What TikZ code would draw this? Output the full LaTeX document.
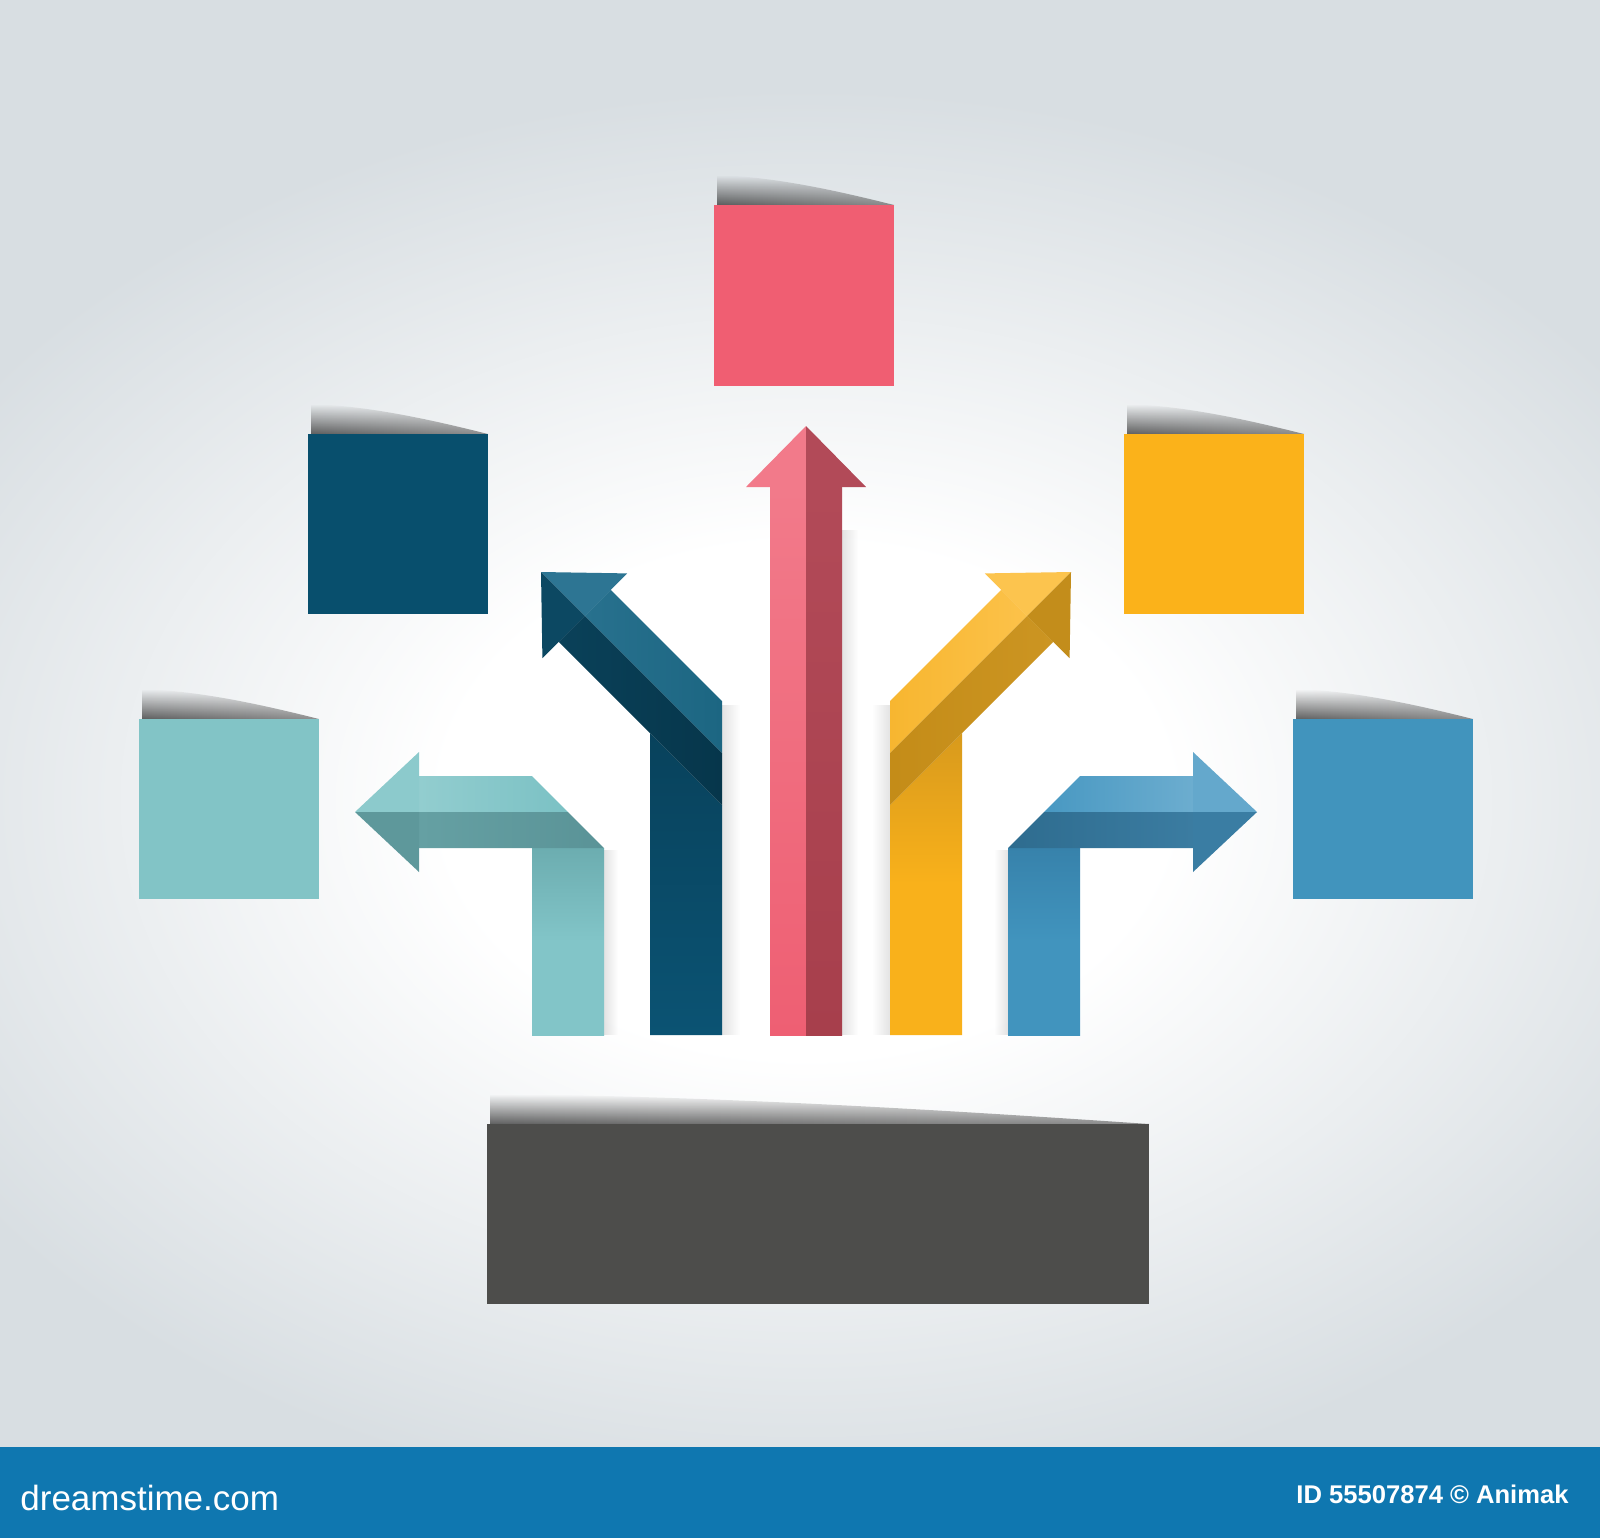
\documentclass[tikz,border=0pt]{standalone}
\usepackage{fontspec}
\setmainfont{Liberation Sans}
\usetikzlibrary{fadings}
\definecolor{bgc}{HTML}{D8DEE2}
\definecolor{redA}{HTML}{EE5F73}
\definecolor{redAl}{HTML}{F27A8A}
\definecolor{redB}{HTML}{A73F4C}
\definecolor{redBl}{HTML}{B24A58}
\definecolor{redbox}{HTML}{F05E72}
\definecolor{dbbox}{HTML}{084F6D}
\definecolor{dbstrip}{HTML}{0B5373}
\definecolor{dbstript}{HTML}{08425C}
\definecolor{dbup}{HTML}{1C6682}
\definecolor{dbupl}{HTML}{28718E}
\definecolor{dblo}{HTML}{0A4159}
\definecolor{dblod}{HTML}{06364B}
\definecolor{dbheadA}{HTML}{2D7593}
\definecolor{dbheadB}{HTML}{0C4862}
\definecolor{yebox}{HTML}{FBB21A}
\definecolor{yestrip}{HTML}{F9B11B}
\definecolor{yestript}{HTML}{D89A1C}
\definecolor{yeup}{HTML}{F7B630}
\definecolor{yeupl}{HTML}{FCC24A}
\definecolor{yelo}{HTML}{C48C18}
\definecolor{yelol}{HTML}{CC9522}
\definecolor{yeheadA}{HTML}{FCC44E}
\definecolor{yeheadB}{HTML}{C38D1B}
\definecolor{tebox}{HTML}{82C4C6}
\definecolor{testrip}{HTML}{82C5C8}
\definecolor{testript}{HTML}{6CADB0}
\definecolor{teup}{HTML}{7BC1C4}
\definecolor{teupl}{HTML}{92CDCF}
\definecolor{telo}{HTML}{5A9397}
\definecolor{telol}{HTML}{65A0A3}
\definecolor{teheadA}{HTML}{8CCACC}
\definecolor{teheadB}{HTML}{5E989B}
\definecolor{blbox}{HTML}{4194BD}
\definecolor{blstrip}{HTML}{4194BE}
\definecolor{blstript}{HTML}{3782AB}
\definecolor{blup}{HTML}{4898C2}
\definecolor{blupl}{HTML}{6CADCF}
\definecolor{bllo}{HTML}{2E6C8F}
\definecolor{bllol}{HTML}{3B7CA1}
\definecolor{blheadA}{HTML}{64A8CC}
\definecolor{blheadB}{HTML}{3A7DA3}
\definecolor{greybox}{HTML}{4D4D4B}
\definecolor{barblue}{HTML}{0F77B0}
\tikzfading[name=fadeup, top color=transparent!100, bottom color=transparent!0]
\tikzfading[name=faderight, left color=transparent!0, right color=transparent!100]
\tikzfading[name=fadeleft, left color=transparent!100, right color=transparent!0]
\pgfdeclareradialshading{bgglow}{\pgfpoint{0bp}{0bp}}{color(0bp)=(white); color(9bp)=(white); color(25bp)=(bgc); color(50bp)=(bgc)}
\newcommand\bxshadow[4]{%
  \shade[left color=black!85, right color=black!60, opacity=0.72, path fading=fadeup]
    ({#1+3},{#3}) -- ({#1+3},{#3-#4}) .. controls ({#1+0.35*(#2-#1)},{#3-#4+2}) and ({#1+0.7*(#2-#1)},{#3-0.45*#4}) .. (#2,#3) -- cycle;}
\tikzset{
  sidesh/.style={fill=black, fill opacity=0.11},
  txtlabel/.style={inner sep=0pt, text=white}
}
\begin{document}
\begin{tikzpicture}[x=0.5pt, y=-0.5pt]
\useasboundingbox (0,0) rectangle (1600,1538);
% background
\fill[bgc] (0,0) rectangle (1600,1538);
\begin{scope}
  \clip (0,0) rectangle (1600,1447);
  \begin{scope}[shift={(806,800)}]
    \pgftransformxscale{20.1}
    \pgftransformyscale{14.2}
    \pgflowlevelsynccm
    \pgfuseshading{bgglow}
  \end{scope}
\end{scope}

% box shadows
\bxshadow{714}{894}{205}{30}
\bxshadow{308}{488}{434}{30}
\bxshadow{1124}{1304}{434}{30}
\bxshadow{139}{319}{719}{30}
\bxshadow{1293}{1473}{719}{30}
\bxshadow{487}{1149}{1124}{30}

% boxes
\fill[redbox] (714,205) rectangle (894,386);
\fill[dbbox] (308,434) rectangle (488,614);
\fill[yebox] (1124,434) rectangle (1304,614);
\fill[tebox] (139,719) rectangle (319,899);
\fill[blbox] (1293,719) rectangle (1473,899);
\fill[greybox] (487,1124) rectangle (1149,1304);

% side shadows of the arrows
\fill[sidesh, path fading=faderight] (842,530) rectangle (858,1035);
\fill[sidesh, path fading=faderight] (722,705) rectangle (740,1035);
\fill[sidesh, path fading=fadeleft] (872,705) rectangle (890,1035);
\fill[sidesh, path fading=faderight] (604,850) rectangle (618,1035);
\fill[sidesh, path fading=fadeleft] (994,850) rectangle (1008,1035);

% red arrow
\shade[top color=redAl, bottom color=redA] (770,487) rectangle (806,1035);
\shade[top color=redBl, bottom color=redB] (806,487) rectangle (842,1035);
\fill[redAl] (806,426) -- (746,487) -- (806,487) -- cycle;
\fill[redBl] (806,426) -- (866,487) -- (806,487) -- cycle;

% dark blue arrow (up-left)
\shade[top color=dbstript, bottom color=dbstrip] (650,733) -- (722,805) -- (722,1035) -- (650,1035) -- cycle;
\shade[left color=dbupl, right color=dbup] (610.8,589.8) -- (722,701) -- (722,753) -- (584.8,615.8) -- cycle;
\shade[left color=dblo, right color=dblod] (558.8,641.8) -- (584.8,615.8) -- (722,753) -- (722,805) -- cycle;
\fill[dbheadA] (541,572) -- (627.2,573.4) -- (584.8,615.8) -- cycle;
\fill[dbheadB] (541,572) -- (584.8,615.8) -- (542.4,658.2) -- cycle;

% yellow arrow (up-right)
\shade[top color=yestript, bottom color=yestrip, middle color=yestrip] (962,733) -- (890,805) -- (890,1035) -- (962,1035) -- cycle;
\shade[left color=yeup, right color=yeupl] (1001.2,589.8) -- (890,701) -- (890,753) -- (1027.2,615.8) -- cycle;
\shade[left color=yelo, right color=yelol] (1053.2,641.8) -- (1027.2,615.8) -- (890,753) -- (890,805) -- cycle;
\fill[yeheadA] (1071,572) -- (984.8,573.4) -- (1027.2,615.8) -- cycle;
\fill[yeheadB] (1071,572) -- (1027.2,615.8) -- (1069.6,658.2) -- cycle;

% teal arrow (left)
\shade[top color=testript, bottom color=testrip, middle color=testrip] (532,848) rectangle (604,1035);
\shade[left color=teupl, right color=teup] (419,776) -- (532,776) -- (568,812) -- (419,812) -- cycle;
\shade[left color=telol, right color=telo] (419,812) -- (568,812) -- (604,848) -- (419,848) -- cycle;
\fill[teheadA] (355,812) -- (419,752) -- (419,812) -- cycle;
\fill[teheadB] (355,812) -- (419,812) -- (419,872) -- cycle;

% blue arrow (right)
\shade[top color=blstript, bottom color=blstrip, middle color=blstrip] (1008,848) rectangle (1080,1035);
\shade[left color=blup, right color=blupl] (1193,776) -- (1080,776) -- (1044,812) -- (1193,812) -- cycle;
\shade[left color=bllo, right color=bllol] (1193,812) -- (1044,812) -- (1008,848) -- (1193,848) -- cycle;
\fill[blheadA] (1257,812) -- (1193,752) -- (1193,812) -- cycle;
\fill[blheadB] (1257,812) -- (1193,812) -- (1193,872) -- cycle;

% bottom bar
\fill[barblue] (0,1447) rectangle (1600,1538);
\node[txtlabel, anchor=base west, font=\fontsize{17.5}{20}\selectfont] (logo) at (20,1510) {dreamstime.com};
\node[txtlabel, anchor=base east, font=\bfseries\fontsize{12.8}{15}\selectfont] (imgid) at (1569,1503) {ID 55507874 © Animak};
\end{tikzpicture}
\end{document}
